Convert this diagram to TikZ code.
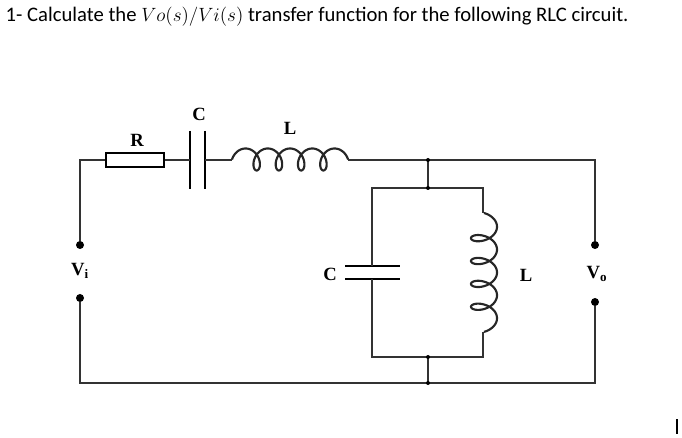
\documentclass[tikz,border=0pt]{standalone}
\usepackage{fontspec}
\setmainfont{Carlito}
\newfontfamily\serifc{Liberation Serif}
\begin{document}
\begin{tikzpicture}[x=0.75pt,y=-0.75pt,
  wire/.style={line width=1.1pt, black!80},
  plate/.style={line width=1.8pt},
  coilw/.style={line width=1.6pt, black!85},
  dot/.style={circle, fill=black, inner sep=0pt, minimum size=6pt},
  jn/.style={circle, fill=black, inner sep=0pt, minimum size=3pt},
  lab/.style={font=\serifc\bfseries\fontsize{14}{14}\selectfont}]
\useasboundingbox (0,0) rectangle (682,438);
\node[anchor=west, font=\fontsize{15.5}{15.5}\selectfont] (title) at (1,17) {1- Calculate the $Vo(s)/Vi(s)$ transfer function for the following RLC circuit.};
\coordinate (tl) at (80,160);
\coordinate (bl) at (80,383);
\coordinate (tr) at (595,160);
\coordinate (br) at (595,383);
\node[dot] (vi1) at (80,245) {};
\node[dot] (vi2) at (80,298) {};
\node[dot] (vo1) at (595,245) {};
\node[dot] (vo2) at (595,302) {};
\node[lab] (vil) at (80,271) {V\textsubscript{i}};
\node[lab] (vol) at (597,274) {V\textsubscript{o}};
\node[draw, line width=1.5pt, minimum width=43pt, minimum height=10pt, inner sep=0pt] (R) at (135,160) {};
\node[lab] (Rl) at (137,140) {R};
\coordinate (c1) at (190,160);
\coordinate (c2) at (205,160);
\draw[plate] (190,131) -- (190,189) (205,131) -- (205,189);
\node[lab] (Cl) at (199,114) {C};
\coordinate (l1s) at (232,160);
\coordinate (l1e) at (348,160);
\node[lab] (Ll) at (290,128) {L};
\coordinate (jt) at (428,160);
\coordinate (jb) at (428,383);
\coordinate (bt) at (428,188);
\coordinate (bb) at (428,357);
\coordinate (btl) at (372,188);
\coordinate (btr) at (483,188);
\coordinate (bbl) at (372,357);
\coordinate (bbr) at (483,357);
\coordinate (cp1) at (372,266);
\coordinate (cp2) at (372,279);
\draw[plate] (345,266) -- (400,266) (345,279) -- (400,279);
\node[lab] (C2l) at (330,274) {C};
\coordinate (l2s) at (483,213);
\coordinate (l2e) at (483,332);
\node[lab] (L2l) at (526,275) {L};
% wires
\draw[wire] (vi1) -- (tl) -- (R);
\draw[wire] (R) -- (c1) (c2) -- (l1s);
% horizontal coil: x = 232 + 8 + k(t+pi/2) + 8 sin t
\draw[coilw] plot[domain=-1.5708:26.7035, samples=300, variable=\t]
  ({240 + 3.54*(\t+1.5708) + 8*sin(\t r)}, {159.5 - 11*cos(\t r)});
\draw[wire] (l1e) -- (tr) -- (vo1);
\draw[wire] (vi2) -- (bl) -- (br) -- (vo2);
\draw[wire] (jt) -- (bt) (jb) -- (bb);
\draw[wire] (cp1) -- (btl) -- (btr) -- (l2s);
\draw[wire] (cp2) -- (bbl) -- (bbr) -- (l2e);
% vertical coil
\draw[coilw] plot[domain=-1.5708:26.7035, samples=300, variable=\t]
  ({484 + 13*cos(\t r)}, {221 + 3.64*(\t+1.5708) + 8*sin(\t r)});
\node[jn] at (jt) {}; \node[jn] at (jb) {}; \node[jn] at (bt) {}; \node[jn] at (bb) {};
\draw[line width=0.8pt] (677,419) -- (677,434);
\end{tikzpicture}
\end{document}
